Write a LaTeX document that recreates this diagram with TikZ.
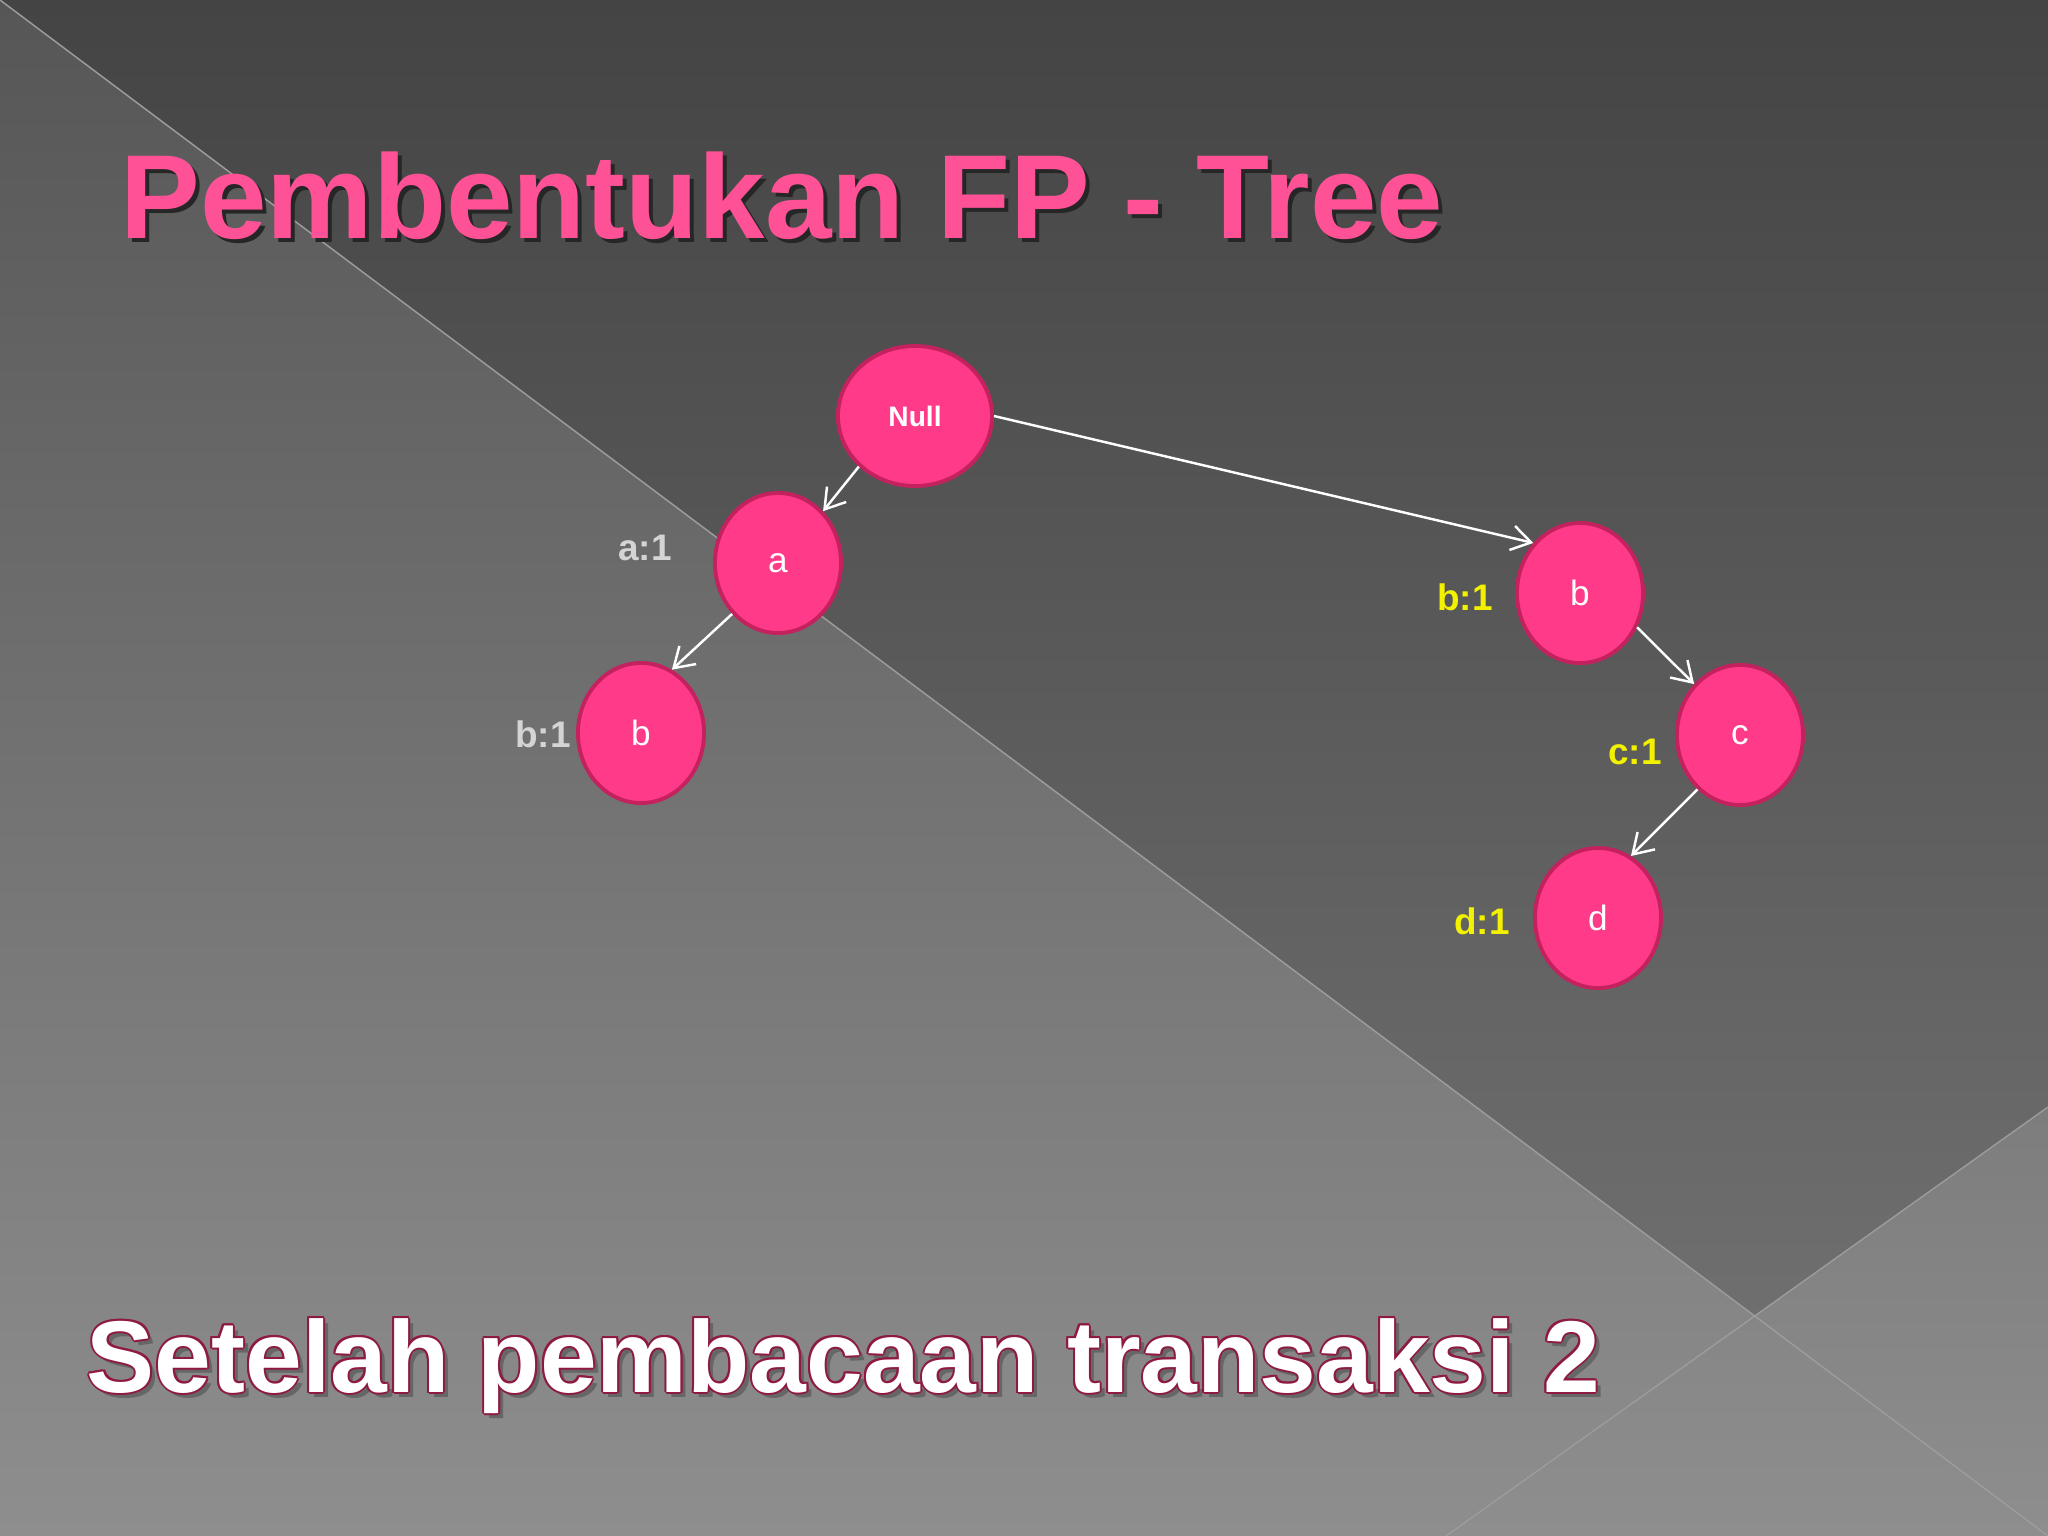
\documentclass[tikz,border=0pt]{standalone}
\usepackage{fontspec}
\setmainfont{Liberation Sans}
\usetikzlibrary{arrows.meta, positioning, shapes.geometric}
\definecolor{slidetop}{HTML}{444444}
\definecolor{slidebottom}{HTML}{767676}
\definecolor{panetop}{HTML}{565656}
\definecolor{panebottom}{HTML}{8E8E8E}
\definecolor{seamgray}{HTML}{9C9C9C}
\definecolor{titlepink}{HTML}{FF5296}
\definecolor{nodepink}{HTML}{FF3A88}
\definecolor{nodeborder}{HTML}{C4215F}
\definecolor{outlinered}{HTML}{8E1A40}
\definecolor{countgray}{HTML}{D4D4D4}
\definecolor{countyellow}{HTML}{F2F200}

\begin{document}
\begin{tikzpicture}[x=0.01cm, y=-0.01cm,
    treenode/.style={ellipse, draw=nodeborder, line width=1.1pt, fill=nodepink, text=white,
        minimum width=1.26cm, minimum height=1.40cm, inner sep=0pt, font=\fontsize{10}{12}\selectfont},
    countlabel/.style={inner sep=0pt, font=\bfseries\fontsize{10.5}{12}\selectfont},
    link/.style={draw=white, line width=0.7pt, -{Straight Barb[length=5.5pt, width=7pt]}},
    titletext/.style={anchor=base west, inner sep=0pt, font=\bfseries\fontsize{34}{40}\selectfont},
    subtext/.style={anchor=base west, inner sep=0pt, font=\bfseries\fontsize{29}{34}\selectfont}]
    \useasboundingbox (0,0) rectangle (2048,1536);

    % Background panes
    \shade[top color=slidetop, bottom color=slidebottom] (0,0) rectangle (2048,1536);
    \shade[top color=panetop, bottom color=panebottom] (0,0) -- (2048,1536) -- (0,1536) -- cycle;
    \shade[top color=slidebottom!95!white, bottom color=panebottom] (2048,1107) -- (1755,1316) -- (2048,1536) -- cycle;
    \draw[seamgray, line width=0.4pt] (0,0) -- (2048,1536);
    \draw[seamgray, line width=0.4pt] (2048,1107) -- (1446,1536);

    % Title
    \node[titletext, text=black!85] (titleshadow) at (124,242) {Pembentukan FP - Tree};
    \node[titletext, text=titlepink] (title) at (120,238) {Pembentukan FP - Tree};

    % Tree
    \node[treenode, minimum width=1.54cm, font=\bfseries\fontsize{8}{10}\selectfont] (null) at (915,416) {Null};
    \node[treenode] (a) at (778,563) {a};
    \node[treenode] (lb) at (641,733) {b};
    \node[treenode] (rb) at (1580,593) {b};
    \node[treenode] (c) at (1740,735) {c};
    \node[treenode] (d) at (1598,918) {d};

    \node[countlabel, text=countgray] (acount) at (645,548) {a:1};
    \node[countlabel, text=countgray] (lbcount) at (543,734) {b:1};
    \node[countlabel, text=countyellow] (rbcount) at (1465,597) {b:1};
    \node[countlabel, text=countyellow] (ccount) at (1635,752) {c:1};
    \node[countlabel, text=countyellow] (dcount) at (1482,921) {d:1};

    \draw[link] (null.222) -- (a.49);
    \draw[link] (null.east) -- (rb.133);
    \draw[link] (a.228) -- (lb.64);
    \draw[link] (rb.-31) -- (c.132);
    \draw[link] (c.232) -- (d.62);

    % Caption
    \node[subtext, text=black!60] (subshadow) at (91,1397) {Setelah pembacaan transaksi 2};
    \foreach \dx/\dy [count=\k] in {-2/0, 2/0, 0/-2, 0/2, -1.5/-1.5, 1.5/1.5, -1.5/1.5, 1.5/-1.5}
        \node[subtext, text=outlinered] (subline\k) at (86+\dx,1392+\dy) {Setelah pembacaan transaksi 2};
    \node[subtext, text=white] (subtitle) at (86,1392) {Setelah pembacaan transaksi 2};
\end{tikzpicture}
\end{document}
